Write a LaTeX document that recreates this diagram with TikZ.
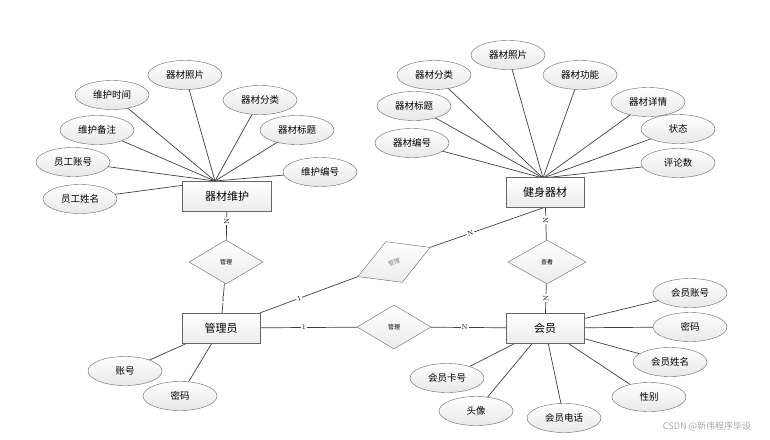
\documentclass[tikz,border=0pt]{standalone}
\usepackage{fontspec}
\newfontfamily\cjk{Noto Sans CJK SC}
\usetikzlibrary{shapes.geometric,backgrounds}
\begin{document}
\begin{tikzpicture}[x=1pt,y=-1pt,font=\cjk,
 attr/.style={ellipse,draw=gray!80!black,top color=white,bottom color=gray!18,minimum width=74pt,minimum height=29pt,inner sep=0pt,font=\cjk\fontsize{9.5}{10}\selectfont},
 ent/.style={rectangle,draw=gray!80!black,top color=white,bottom color=gray!15,minimum width=78pt,minimum height=30pt,font=\cjk\fontsize{11}{12}\selectfont},
 rel/.style={diamond,draw=gray!80!black,top color=white,bottom color=gray!15,minimum width=74pt,minimum height=44pt,aspect=1.7,inner sep=0pt,font=\cjk\fontsize{6}{7}\selectfont},
 ln/.style={draw=black!75,line width=0.7pt},
 card/.style={font=\fontsize{7}{8}\selectfont,inner sep=1pt}]
\useasboundingbox (0,0) rectangle (770,439);
\node[ent,minimum width=89pt] (wh) at (227,196) {器材维护};
\node[ent] (gly) at (221,328) {管理员};
\node[ent] (js) at (545,192) {健身器材};
\node[ent] (hy) at (545,328) {会员};
\node[rel] (r1) at (226,262) {管理};
\node[rel,rotate=22,minimum width=78pt] (r2) at (394,262) {\color{gray}管理};
\node[rel] (r3) at (394,327) {管理};
\node[rel,minimum width=78pt] (r4) at (547,262) {查看};
\foreach \n/\t/\x/\y in {a1/员工姓名/80/199,a2/员工账号/73/162,a3/维护备注/97/130,a4/维护时间/112/95,a5/器材照片/185/75,a6/器材分类/260/100,a7/器材标题/297/130,a8/维护编号/320/172}
 {\node[attr] (\n) at (\x,\y) {\t};}
\foreach \n/\t/\x/\y in {b1/器材分类/434/75,b2/器材照片/508/55,b3/器材功能/580/75,b4/器材详情/648/102,b5/状态/678/129,b6/评论数/678/163,b7/器材标题/414/106,b8/器材编号/412/143}
 {\node[attr] (\n) at (\x,\y) {\t};}
\foreach \n/\t/\x/\y in {c1/账号/125/371,c2/密码/180/396,d1/会员卡号/447/378,d2/头像/476/411,d3/会员电话/564/418,d4/性别/649/397,d5/会员姓名/670/362,d6/密码/690/327,d7/会员账号/690/293}
 {\node[attr] (\n) at (\x,\y) {\t};}
\node[font=\cjk\fontsize{9}{10}\selectfont,text=gray!70] (wm) at (707,426) {CSDN @新伟程序毕设};
\begin{scope}[on background layer]
\foreach \n in {a1,a2,a3,a4,a5,a6,a7,a8} \draw[ln] (\n.center) -- (215,181);
\foreach \n in {b1,b2,b3,b4,b5,b6,b7,b8} \draw[ln] (\n.center) -- (543,178);
\foreach \n in {c1,c2} \draw[ln] (\n.center) -- (gly.center);
\foreach \n in {d1,d2,d3,d4,d5,d6,d7} \draw[ln] (\n.center) -- (hy.center);
\draw[ln] (wh) -- node[card,pos=0.35,rotate=90,fill=white]{N} (r1) -- node[card,pos=0.55,fill=white]{1} (gly);
\draw[ln] (gly.north east) -- node[card,sloped,pos=0.4,fill=white]{1} (r2.west);
\draw[ln] (r2.east) -- node[card,sloped,pos=0.35,fill=white]{N} (js.south);
\draw[ln] (gly) -- node[card,pos=0.45,fill=white]{1} (r3) -- node[card,pos=0.45,fill=white]{N} (hy);
\draw[ln] (js) -- node[card,pos=0.4,rotate=90,fill=white]{N} (r4) -- node[card,pos=0.5,rotate=90,fill=white]{N} (hy);
\end{scope}
\end{tikzpicture}
\end{document}
